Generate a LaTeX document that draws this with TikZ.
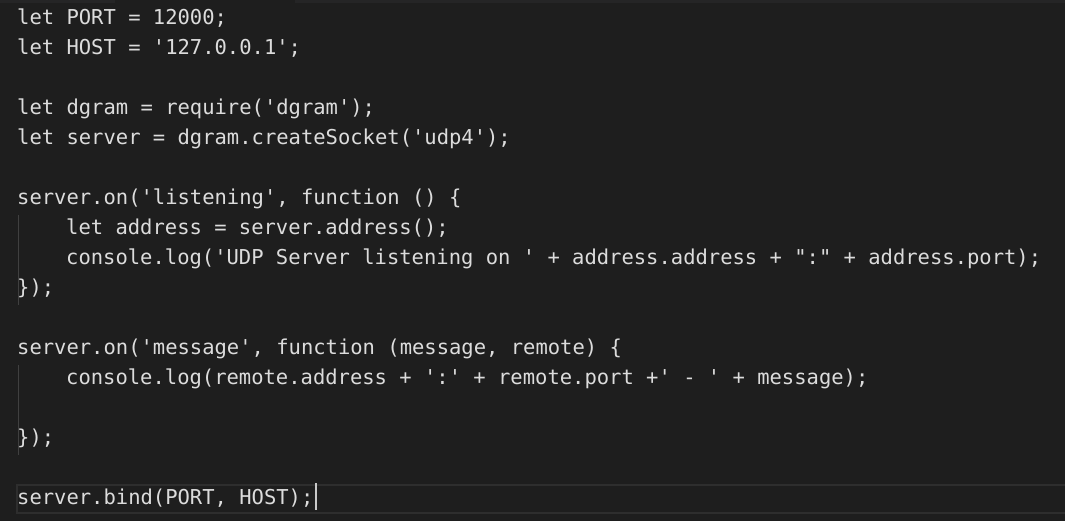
\documentclass[tikz,border=0pt]{standalone}
\usepackage{fontspec}
\setmonofont{DejaVu Sans Mono}
\definecolor{bg}{HTML}{1E1E1E}
\definecolor{txt}{HTML}{DCDCDC}
\definecolor{strip}{HTML}{252526}
\definecolor{guide}{HTML}{404040}
\definecolor{curline}{HTML}{2E2E2E}
\begin{document}
\begin{tikzpicture}[x=1pt,y=1pt,
  code/.style={anchor=base west,inner sep=0pt,text=txt,font=\ttfamily\fontsize{20.5}{24}\selectfont}]
\fill[bg] (0,0) rectangle (1065,521);
\useasboundingbox (0,0) rectangle (1065,521);
\fill[strip] (0,518) rectangle (115,521);
\fill[strip] (295,518) rectangle (1065,521);
\draw[guide,line width=1pt] (18.5,306) -- (18.5,216);
\draw[guide,line width=1pt] (18.5,156) -- (18.5,66);
\draw[curline,line width=2pt] (17,36) rectangle (1066,8);
\def\L#1#2#3{\node[code] (l#1) at (#2,526-#1*30) {#3};}
\L{1}{17}{let PORT = 12000;}
\L{2}{17}{let HOST = '127.0.0.1';}
\L{4}{17}{let dgram = require('dgram');}
\L{5}{17}{let server = dgram.createSocket('udp4');}
\L{7}{17}{server.on('listening', function () \{}
\L{8}{66}{let address = server.address();}
\L{9}{66}{console.log('UDP Server listening on ' + address.address + ":" + address.port);}
\L{10}{17}{\});}
\L{12}{17}{server.on('message', function (message, remote) \{}
\L{13}{66}{console.log(remote.address + ':' + remote.port +' - ' + message);}
\L{15}{17}{\});}
\L{17}{17}{server.bind(PORT, HOST);}
\fill[txt!80!gray] ([xshift=1pt]l17.base east) ++(0,-5) rectangle ++(2,27);
\end{tikzpicture}
\end{document}
